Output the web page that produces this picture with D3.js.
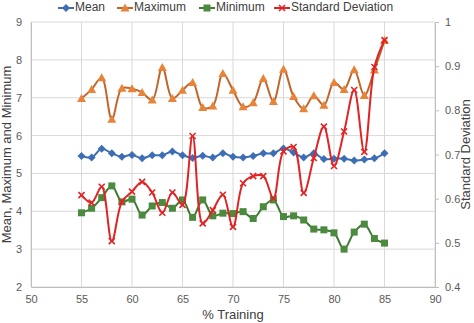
<!DOCTYPE html>
<html><head><meta charset="utf-8">
<script src="https://cdn.jsdelivr.net/npm/d3@7"></script>
<style>body{margin:0;background:#fff}svg{display:block;font-family:"Liberation Sans",Arial,sans-serif}</style>
</head><body><svg id="c" width="474" height="323"></svg>
<script>
const training = d3.range(55, 86);
const meanVals = [5.46,5.42,5.65,5.53,5.44,5.49,5.40,5.48,5.48,5.58,5.48,5.41,5.47,5.42,5.53,5.44,5.42,5.46,5.53,5.53,5.66,5.55,5.42,5.53,5.38,5.39,5.39,5.34,5.37,5.40,5.53];
const maxVals = [6.98,7.22,7.53,6.43,7.25,7.24,7.14,6.94,7.80,6.98,7.20,7.40,6.74,6.78,7.64,7.20,6.76,6.87,7.51,6.90,7.75,7.03,6.71,7.05,6.80,7.40,7.22,7.74,7.06,7.73,8.51];
const minVals = [3.96,4.08,4.36,4.67,4.25,4.32,3.90,4.14,4.23,4.08,4.30,3.84,4.30,3.88,3.95,3.94,3.99,3.81,4.12,4.30,3.86,3.88,3.77,3.53,3.51,3.43,3.00,3.45,3.66,3.28,3.16];
const sdVals = [0.608,0.591,0.627,0.504,0.593,0.616,0.638,0.614,0.568,0.614,0.586,0.742,0.544,0.574,0.609,0.536,0.635,0.651,0.651,0.601,0.707,0.717,0.613,0.692,0.763,0.674,0.752,0.846,0.706,0.898,0.959];
const xTicks = d3.range(50, 91, 5);
const yTicks = d3.range(2, 10, 1);
const y2Ticks = [0.4,0.5,0.6,0.7,0.8,0.9,1];

const svg = d3.select("#c");
const L=31, R=435, T=22, B=287;
const x = d3.scaleLinear().domain([50,90]).range([L,R]);
const y = d3.scaleLinear().domain([2,9]).range([B,T]);
const y2 = d3.scaleLinear().domain([0.4,1]).range([B,T]);
const grid="#d9d9d9", txt="#595959";

svg.append("g").selectAll("line").data(yTicks).join("line")
  .attr("x1",L).attr("x2",R).attr("y1",d=>y(d)).attr("y2",d=>y(d)).attr("stroke",grid).attr("stroke-width",1);
svg.append("g").selectAll("line").data(xTicks).join("line")
  .attr("x1",d=>x(d)).attr("x2",d=>x(d)).attr("y1",T).attr("y2",B).attr("stroke",grid).attr("stroke-width",1);

const ax = d3.axisBottom(x).tickValues(xTicks).tickSize(0).tickPadding(8).tickFormat(d3.format("d"));
const gx = svg.append("g").attr("transform",`translate(0,${B})`).call(ax);
const ayL = d3.axisLeft(y).tickValues(yTicks).tickSize(0).tickPadding(9).tickFormat(d3.format("d"));
const gy = svg.append("g").attr("transform",`translate(${L},0)`).call(ayL);
const ayR = d3.axisRight(y2).tickValues(y2Ticks).tickSize(4).tickPadding(6).tickFormat(d=>d===1?"1":d3.format(".1f")(d));
const gy2 = svg.append("g").attr("transform",`translate(${R},0)`).call(ayR);
[gx,gy,gy2].forEach(g=>{
  g.select(".domain").attr("stroke","#bfbfbf");
  g.selectAll(".tick line").attr("stroke","#bfbfbf");
  g.selectAll("text").attr("fill",txt).attr("font-size","11px").attr("font-family","Liberation Sans, Arial, sans-serif");
});

svg.append("text").attr("transform",`translate(8,${(T+B)/2}) rotate(-90)`).attr("text-anchor","middle")
  .attr("dominant-baseline","middle").attr("font-size","13px").attr("fill","#404040").text("Mean, Maximum and Minimum");
svg.append("text").attr("transform",`translate(467,${(T+B)/2}) rotate(-90)`).attr("text-anchor","middle")
  .attr("dominant-baseline","middle").attr("font-size","13px").attr("fill","#404040").text("Standard Deviation");
svg.append("text").attr("x",(L+R)/2).attr("y",319).attr("text-anchor","middle")
  .attr("font-size","13px").attr("fill","#404040").text("% Training");

const curve = d3.curveCatmullRom.alpha(0.5);
const series = [
  {name:"Mean", vals:meanVals, sc:y, line:"#3d6db5", fill:"#3d6db5", m:"diamond"},
  {name:"Maximum", vals:maxVals, sc:y, line:"#c0652b", fill:"#e8833a", m:"triangle"},
  {name:"Minimum", vals:minVals, sc:y, line:"#3f7a35", fill:"#4c8a3f", m:"square"},
  {name:"Standard Deviation", vals:sdVals, sc:y2, line:"#e02424", fill:"#e02424", m:"x"}
];
function marker(g, type, color, cx, cy){
  if(type==="diamond"){
    g.append("path").attr("d",`M${cx},${cy-4}L${cx+4},${cy}L${cx},${cy+4}L${cx-4},${cy}Z`).attr("fill",color);
  } else if(type==="triangle"){
    g.append("path").attr("d",`M${cx},${cy-4.5}L${cx+4.5},${cy+3.5}L${cx-4.5},${cy+3.5}Z`).attr("fill",color);
  } else if(type==="square"){
    g.append("rect").attr("x",cx-3.5).attr("y",cy-3.5).attr("width",7).attr("height",7).attr("fill",color);
  } else {
    g.append("path").attr("d",`M${cx-3},${cy-3}L${cx+3},${cy+3}M${cx-3},${cy+3}L${cx+3},${cy-3}`).attr("stroke",color).attr("stroke-width",1.6);
  }
}
series.forEach(s=>{
  const pts = training.map((t,i)=>[x(t), s.sc(s.vals[i])]);
  const g = svg.append("g");
  g.append("path").attr("d", d3.line().curve(curve)(pts)).attr("fill","none").attr("stroke",s.line).attr("stroke-width",2);
  pts.forEach(p=>marker(g,s.m,s.fill,p[0],p[1]));
});

const legendX = [58,117,199,274];
series.forEach((s,i)=>{
  const g = svg.append("g");
  const lx = legendX[i], ly = 8;
  g.append("line").attr("x1",lx).attr("x2",lx+16).attr("y1",ly).attr("y2",ly).attr("stroke",s.line).attr("stroke-width",2);
  marker(g,s.m,s.fill,lx+8,ly);
  g.append("text").attr("x",lx+17).attr("y",ly).attr("dominant-baseline","middle").attr("font-size","12px").attr("fill","#404040").text(s.name);
});
</script></body></html>
